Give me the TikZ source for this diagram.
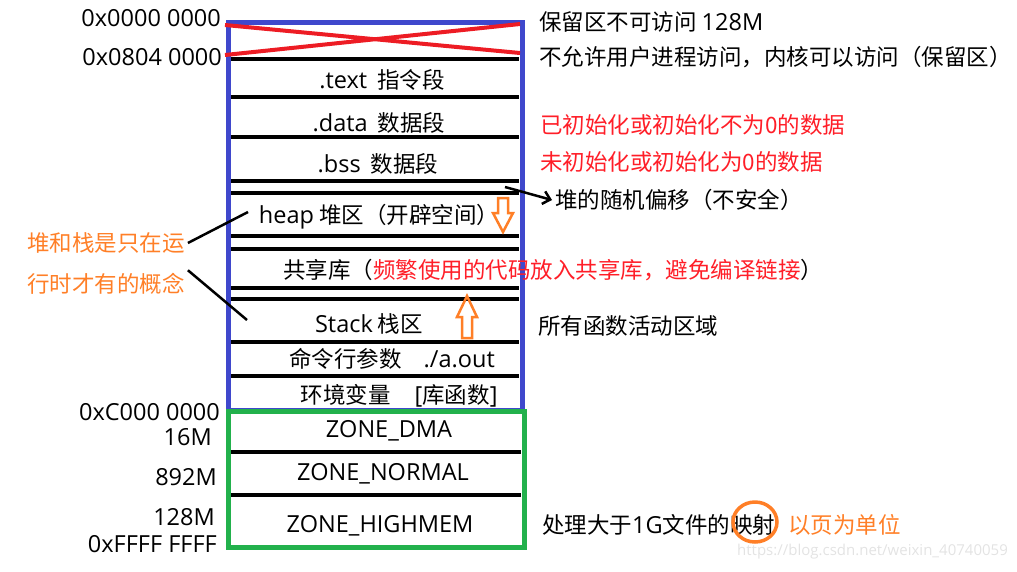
\documentclass[tikz,border=0pt]{standalone}
\usepackage{fontspec}
\usetikzlibrary{arrows.meta}
\newfontfamily\cjk{Noto Sans CJK SC}
\newfontfamily\lat{Open Sans}
\definecolor{frameblue}{RGB}{63,72,204}
\definecolor{zonegreen}{RGB}{34,177,76}
\definecolor{memred}{RGB}{237,28,36}
\definecolor{textred}{RGB}{255,30,40}
\definecolor{memorange}{RGB}{255,127,39}
\newcommand\latin[1]{{\lat\fontsize{23.5}{26}\selectfont #1}}

\begin{document}
\begin{tikzpicture}[x=1pt,y=-1pt,
    txt/.style={font=\cjk\fontsize{22.5}{26}\selectfont,inner sep=0pt},
    addr/.style={txt,font=\lat\fontsize{23.5}{26}\selectfont,anchor=east},
    note/.style={txt,anchor=west},
    seg/.style={line width=4pt},
    conn/.style={line width=2.5pt},
    hollow/.style={draw=memorange,line width=2.5pt,line join=miter}]

  \useasboundingbox (0,0) rectangle (1017,571);

  % user space
  \draw[frameblue,line width=5pt] (228,22) rectangle (522,410);
  \draw[memred,line width=4pt] (225,25) -- (520,53) (225,55) -- (520,24);
  \foreach \y in {59,97,137,181,193,236,249,288,299,342,376}
    \draw[seg] (231,\y) -- (519,\y);
  % kernel zones
  \draw[zonegreen,line width=5pt] (228.5,411.5) rectangle (524,547.5);
  \foreach \y in {452,495}
    \draw[seg] (231,\y) -- (521,\y);

  % segments
  \node[txt] (text)  at (382,80)  {\latin{.text}\ \ 指令段};
  \node[txt] (data)  at (379,123) {\latin{.data}\ \ 数据段};
  \node[txt] (bss)   at (378,164) {\latin{.bss}\ \ 数据段};
  \node[txt] (heap)  at (379,217) {\latin{heap} 堆区（开辟空间）};
  \node[note] (shlib) at (283,270)
    {共享库（\textcolor{textred}{频繁使用的代码放入共享库，避免编译链接}）};
  \node[txt] (stack) at (369,324) {\latin{Stack} 栈区};
  \node[txt] (args)  at (392,359) {命令行参数\hspace{22pt}\latin{./a.out}};
  \node[txt] (env)   at (399,396) {环境变量\hspace{24pt}\latin{[}库函数\latin{]}};
  \node[addr,anchor=center] (dma)    at (389,431) {ZONE\_DMA};
  \node[addr,anchor=center] (normal) at (383,474) {ZONE\_NORMAL};
  \node[addr,anchor=center] (high)   at (380,526) {ZONE\_HIGHMEM};

  % addresses
  \node[addr] (a0)   at (221,18)  {0x0000 0000};
  \node[addr] (a1)   at (222,57)  {0x0804 0000};
  \node[addr] (a2)   at (220,412) {0xC000 0000};
  \node[addr] (m16)  at (212,437) {16M};
  \node[addr] (m892) at (217,477) {892M};
  \node[addr] (m128) at (215,517) {128M};
  \node[addr] (a3)   at (217,544) {0xFFFF FFFF};

  % notes on the right
  \node[note] (rsv)   at (539,22)  {保留区不可访问 \latin{128M}};
  \node[note] (kern)  at (539,57)  {不允许用户进程访问，内核可以访问（保留区）};
  \node[note,text=textred] (init)  at (540,125) {已初始化或初始化不为0的数据};
  \node[note,text=textred] (uninit) at (540,162) {未初始化或初始化为0的数据};
  \node[note,inner sep=3pt] (rnd) at (552,200) {堆的随机偏移（不安全）};
  \node[note] (func)  at (538,326) {所有函数活动区域};
  \node[note] (map)   at (542,525) {处理大于\latin{1G}文件的映射};
  \node[note,text=memorange] (page) at (788,525) {以页为单位};
  \node[note,font=\lat\fontsize{15}{18}\selectfont,text=gray!22] (wm)
    at (737,552) {https://blog.csdn.net/weixin\_40740059};

  % notes on the left
  \node[note,text=memorange,inner sep=3pt] (run1) at (24,243) {堆和栈是只在运};
  \node[note,text=memorange,inner sep=3pt] (run2) at (24,284) {行时才有的概念};

  % connectors
  \coordinate (heapoff) at (505,187);
  \coordinate (heapin)  at (248,212);
  \coordinate (stackin) at (247,320);
  \draw[conn,-{Straight Barb[length=7pt,width=13pt]}] (heapoff) -- (rnd.west);
  \draw[conn] (run1.east) -- (heapin);
  \draw[conn] (run2.north east) -- (stackin);

  % growth arrows
  \draw[hollow] (498,198) -- (508,198) -- (508,213) -- (513,213) -- (503,232)
    -- (493,213) -- (498,213) -- cycle;
  \draw[hollow] (467,296) -- (477,317) -- (472,317) -- (472,338) -- (462,338)
    -- (462,317) -- (457,317) -- cycle;
  \draw[memorange,line width=3.5pt] (755,522) ellipse [x radius=22, y radius=20];
\end{tikzpicture}
\end{document}
